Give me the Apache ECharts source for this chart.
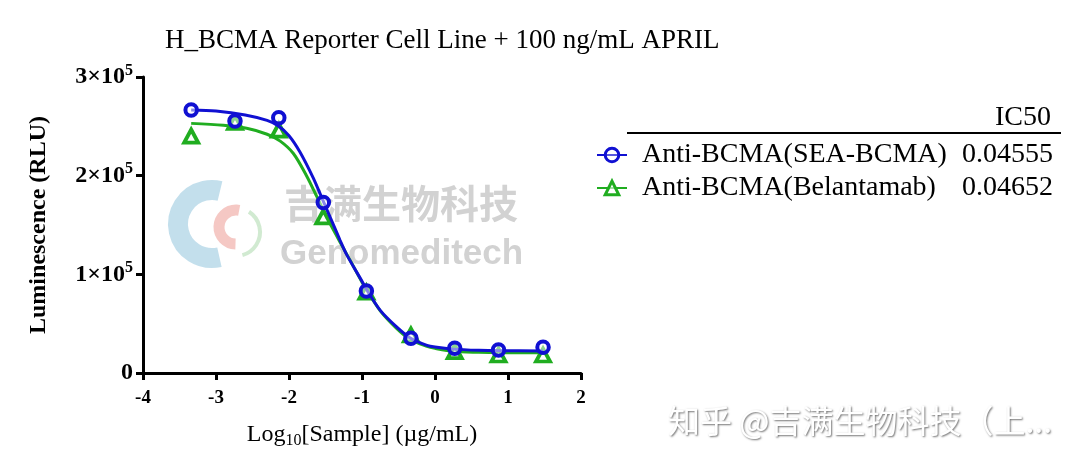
<!DOCTYPE html>
<html>
<head>
<meta charset="utf-8">
<script src="https://cdn.jsdelivr.net/npm/echarts@6/dist/echarts.min.js"></script>
<style>
  html, body { margin: 0; padding: 0; background: #ffffff; }
  #chart { width: 1080px; height: 467px; }
</style>
</head>
<body>
<div id="chart"></div>
<script>
// ---------- data ----------
var titleText = 'H_BCMA Reporter Cell Line + 100 ng/mL APRIL';
var seriesNames = ['Anti-BCMA(SEA-BCMA)', 'Anti-BCMA(Belantamab)'];
var ic50Values = ['0.04555', '0.04652'];
var ic50Header = 'IC50';

// log10 concentration of the measured points (µg/mL)
var doseLog = [-3.34, -2.74, -2.14, -1.53, -0.94, -0.33, 0.27, 0.87, 1.48];
// measured luminescence (RLU)
var seaPoints  = [266500, 255300, 258700, 172900, 83100, 35200, 25000, 23300, 26000];
var belaPoints = [240100, 254000, 246200, 158300, 81800, 38500, 21600, 18200, 18200];

// fitted curves
var seaFitX  = [-3.34, -3.0, -2.6, -2.3, -2.15, -2.0, -1.85, -1.67, -1.55, -1.44, -1.30, -1.21, -1.0, -0.94, -0.75, -0.53, -0.34, -0.11, 0.0, 0.25, 0.6, 0.9, 1.48];
var seaFitY  = [266500, 265500, 261500, 256000, 250500, 240500, 224000, 198000, 177500, 158500, 134500, 120000, 93000, 85000, 63500, 47000, 35500, 28000, 26300, 24200, 23000, 22600, 22400];
var belaFitX = [-3.34, -2.9, -2.58, -2.3, -2.12, -1.94, -1.76, -1.62, -1.51, -1.42, -1.30, -1.15, -1.0, -0.94, -0.75, -0.53, -0.34, -0.11, 0.0, 0.25, 0.6, 0.9, 1.48];
var belaFitY = [253000, 251000, 248000, 242000, 235000, 222500, 200000, 179000, 162000, 149000, 132500, 112500, 92000, 84500, 63000, 45500, 34000, 27000, 25000, 22000, 21000, 20600, 20400];

var xTicks = [-4, -3, -2, -1, 0, 1, 2];
var yTicks = [0, 100000, 200000, 300000];

// ---------- styling ----------
var SERIF = "'Liberation Serif', 'Times New Roman', serif";
var BLUE = '#1010d2';
var GREEN = '#20ad20';

function pairs(xs, ys) { return xs.map(function (x, i) { return [x, ys[i]]; }); }

var chart = echarts.init(document.getElementById('chart'), null, { renderer: 'canvas' });

var option = {
  backgroundColor: '#ffffff',
  animation: false,
  title: {
    text: titleText,
    left: 160, top: 22,
    textStyle: { fontFamily: SERIF, fontSize: 27, fontWeight: 'normal', color: '#000' }
  },
  grid: { left: 143, right: 499, top: 77, bottom: 94, containLabel: false },
  xAxis: {
    type: 'value',
    min: xTicks[0], max: xTicks[xTicks.length - 1], interval: 1,
    splitLine: { show: false },
    axisLine: { show: true, onZero: false, lineStyle: { color: '#000', width: 3 } },
    axisTick: { show: true, inside: false, length: 7, lineStyle: { color: '#000', width: 3 } },
    axisLabel: {
      margin: 16, color: '#000', fontFamily: SERIF, fontWeight: 'bold', fontSize: 19
    },
    name: '{a|Log}{s|10}{a|[Sample] (µg/mL)}',
    nameLocation: 'middle',
    nameGap: 48,
    nameTextStyle: {
      rich: {
        a: { fontFamily: SERIF, fontSize: 24, color: '#000', lineHeight: 28 },
        s: { fontFamily: SERIF, fontSize: 16, color: '#000', verticalAlign: 'bottom', lineHeight: 18 }
      }
    }
  },
  yAxis: {
    type: 'value',
    min: yTicks[0], max: yTicks[yTicks.length - 1], interval: 100000,
    splitLine: { show: false },
    axisLine: { show: true, onZero: false, lineStyle: { color: '#000', width: 3 } },
    axisTick: { show: true, inside: false, length: 7, lineStyle: { color: '#000', width: 3 } },
    axisLabel: {
      margin: 10,
      formatter: function (v) {
        if (v === 0) return '{a|0}';
        return '{a|' + (v / 100000) + '×10}{s|5}';
      },
      rich: {
        a: { fontFamily: SERIF, fontWeight: 'bold', fontSize: 24, color: '#000', lineHeight: 29 },
        s: { fontFamily: SERIF, fontWeight: 'bold', fontSize: 16, color: '#000', verticalAlign: 'top', lineHeight: 16 }
      }
    },
    name: 'Luminescence (RLU)',
    nameLocation: 'middle',
    nameGap: 92,
    nameTextStyle: { fontFamily: SERIF, fontWeight: 'bold', fontSize: 24, color: '#000' }
  },
  legend: {
    data: seriesNames,
    orient: 'vertical',
    left: 591, top: 135,
    itemWidth: 30, itemHeight: 17,
    itemGap: 3,
    selectedMode: false,
    itemStyle: { borderWidth: 3 },
    formatter: function (name) {
      var i = seriesNames.indexOf(name);
      return '{n|' + name + '}{v|' + ic50Values[i] + '}';
    },
    textStyle: {
      lineHeight: 30,
      rich: {
        n: { fontFamily: SERIF, fontSize: 28, color: '#000', width: 317, padding: [0, 0, 0, 10] },
        v: { fontFamily: SERIF, fontSize: 28, color: '#000', width: 94, align: 'right' }
      }
    }
  },
  graphic: [
    // watermark logo (approximate)
    { type: 'arc', z: 0, shape: { cx: 212, cy: 224, r: 34, startAngle: 1.35, endAngle: 4.95, clockwise: true },
      style: { fill: null, stroke: 'rgba(170,210,228,0.7)', lineWidth: 20 } },
    { type: 'arc', z: 0, shape: { cx: 236, cy: 227, r: 17, startAngle: 1.6, endAngle: 4.9, clockwise: true },
      style: { fill: null, stroke: 'rgba(240,170,165,0.65)', lineWidth: 11 } },
    { type: 'arc', z: 0, shape: { cx: 236, cy: 232, r: 24, startAngle: -1.0, endAngle: 1.3, clockwise: true },
      style: { fill: null, stroke: 'rgba(190,225,190,0.7)', lineWidth: 4 } },
    { type: 'text', z: 0, left: 284, top: 184,
      style: { text: '吉满生物科技', fill: '#d2d2d2', font: "bold 39px 'Noto Sans CJK SC', sans-serif" } },
    { type: 'text', z: 0, left: 280, top: 237,
      style: { text: 'Genomeditech', fill: '#d2d2d2', font: "bold 35px 'Liberation Sans', Arial, sans-serif" } },
    // bottom-right watermark
    { type: 'text', z: 0, left: 668, top: 405,
      style: { text: '知乎 @吉满生物科技（上...', fill: '#ffffff', font: "32px 'Noto Sans CJK SC', sans-serif",
        textShadowColor: 'rgba(0,0,0,0.55)', textShadowBlur: 2, textShadowOffsetX: 1, textShadowOffsetY: 1 } },
    // IC50 column header and rule
    { type: 'text', z: 5, right: 29, top: 104,
      style: { text: ic50Header, fill: '#000', font: "28px 'Liberation Serif', 'Times New Roman', serif" } },
    { type: 'line', z: 5, shape: { x1: 627, y1: 133, x2: 1061, y2: 133 },
      style: { stroke: '#000', lineWidth: 2 } }
  ],
  series: [
    {
      name: seriesNames[1], type: 'line', data: pairs(belaFitX, belaFitY),
      smooth: 0.3, showSymbol: false, symbol: 'triangle', symbolSize: [13, 12],
      itemStyle: { color: 'rgba(255,255,255,0.6)', borderColor: GREEN, borderWidth: 3 },
      lineStyle: { color: GREEN, width: 3 }, z: 2
    },
    {
      name: seriesNames[1], type: 'scatter', data: pairs(doseLog, belaPoints),
      symbol: 'triangle', symbolSize: [14, 13],
      itemStyle: { color: 'rgba(255,255,255,0.6)', borderColor: GREEN, borderWidth: 3.8, opacity: 1 }, z: 3
    },
    {
      name: seriesNames[0], type: 'line', data: pairs(seaFitX, seaFitY),
      smooth: 0.3, showSymbol: false, symbol: 'circle', symbolSize: 11,
      itemStyle: { color: 'rgba(255,255,255,0.3)', borderColor: BLUE, borderWidth: 3 },
      lineStyle: { color: BLUE, width: 3 }, z: 4
    },
    {
      name: seriesNames[0], type: 'scatter', data: pairs(doseLog, seaPoints),
      symbol: 'circle', symbolSize: 11.5,
      itemStyle: { color: 'rgba(255,255,255,0.5)', borderColor: BLUE, borderWidth: 4, opacity: 1 }, z: 5
    }
  ]
};
chart.setOption(option);
</script>
</body>
</html>
